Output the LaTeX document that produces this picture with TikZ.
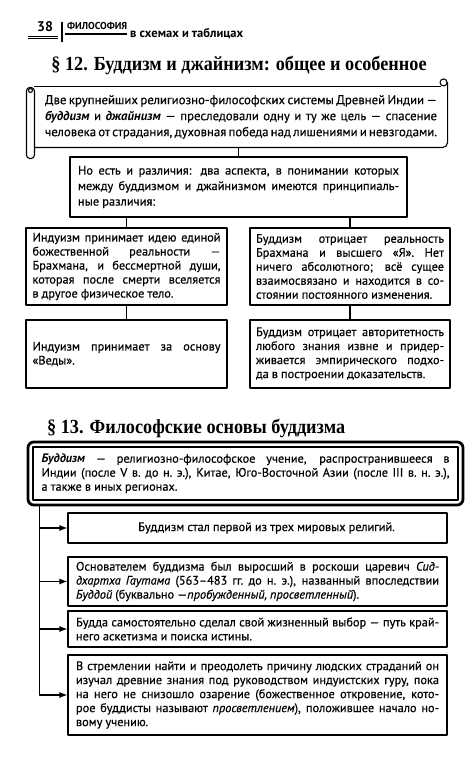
\documentclass[tikz,border=0pt]{standalone}
\usepackage{fontspec}
\setmainfont[UprightFeatures={FakeBold=0.4}, ItalicFeatures={FakeBold=0.4}]{PT Sans}
\newfontfamily\headfont[FakeStretch=0.91]{Liberation Serif}
\usetikzlibrary{arrows.meta,fit}
\newcommand\tightspaces{\spaceskip=.25em plus .35em minus .11em\relax}

\tikzset{
  boxline/.style={line width=1.1pt, line join=round},
  textbox/.style={rectangle, draw, boxline, inner ysep=2pt, align=justify,
    font=\fontsize{12.3}{14}\selectfont, execute at begin node=\tightspaces},
  branch/.style={boxline, -{Latex[length=8pt,width=6pt]}},
  headtitle/.style={font=\headfont\bfseries\fontsize{20}{22}\selectfont, inner sep=0pt},
  headsmall/.style={font=\bfseries, inner sep=0pt}
}

\begin{document}
\begin{tikzpicture}[x=1pt,y=-1pt]
\path[use as bounding box, fill=white] (0,0) rectangle (474,775);

% page header
\node[headsmall, font=\bfseries\fontsize{14}{14}\selectfont, anchor=base] (pagenum) at (45,32) {38};
\draw[line width=0.6pt] (28,36) -- (58,36);
\draw[line width=0.6pt] (28,38.5) -- (58,38.5);
\draw[line width=2.2pt] (62,22) -- (62,42);
\node[headsmall, font=\bfseries\fontsize{10}{10}\selectfont, anchor=base west] (series) at (67,30) {ФИЛОСОФИЯ};
\draw[line width=2pt] ([shift={(-2,3.5)}]series.south west) -- ([shift={(0,3.5)}]series.south east);
\node[headsmall, font=\bfseries\fontsize{12.5}{12.5}\selectfont, anchor=base west] (subtitle) at (130,37.5) {в схемах и таблицах};

% section 12
\node[headtitle, anchor=base] (title12) at (239,71) {§ 12. Буддизм и джайнизм: общее и особенное};

\node[textbox, draw=none, text width=392pt, inner xsep=10pt, minimum height=60pt,
      font=\fontsize{12.8}{16}\selectfont] (box1) at (241,117)
  {\parfillskip=0pt Две крупнейших религиозно-философских системы Древней Индии —\linebreak
   \textbf{\textit{буддизм}} и \textbf{\textit{джайнизм}} — преследовали одну и ту же цель — спасение\linebreak
   человека от страдания, духовная победа над лишениями и невзгодами.};
% scroll outline
\draw[boxline] (box1.north west) -- ([shift={(-7,0)}]box1.north east);
\draw[boxline] ([shift={(-4,-4)}]box1.north east) circle (3.5pt);
\draw[boxline, rounded corners=5pt] ([shift={(0,-4)}]box1.north east) -- (box1.south east) -- (box1.south west);
\draw[boxline, rounded corners=3.5pt] ([shift={(0,1)}]box1.north west) rectangle ([shift={(-8,11)}]box1.south west);
\draw[boxline] ([shift={(-4,4)}]box1.north west) circle (2pt);

\node[textbox, text width=321pt, inner xsep=8pt, minimum height=60pt,
      font=\fontsize{12.4}{15.5}\selectfont] (box2) at (238.5,187)
  {Но есть и различия: два аспекта, в понимании которых\linebreak
   между буддизмом и джайнизмом имеются принципиаль-\linebreak
   ные различия:};

\node[textbox, text width=188pt, inner xsep=6.5pt, minimum height=77pt] (box3) at (126.5,266.5)
  {Индуизм принимает идею единой\linebreak
   божественной реальности —\linebreak
   Брахмана, и бессмертной души,\linebreak
   которая после смерти вселяется\linebreak
   в другое физическое тело.};
\node[textbox, text width=188pt, inner xsep=6pt, minimum height=77pt] (box4) at (350,266.5)
  {\parfillskip=0pt Буддизм отрицает реальность\linebreak
   Брахмана и высшего «Я». Нет\linebreak
   ничего абсолютного; всё сущее\linebreak
   взаимосвязано и находится в со-\linebreak
   стоянии постоянного изменения.};

\node[textbox, text width=188pt, inner xsep=6.5pt, minimum height=68pt] (box5) at (126.5,354)
  {Индуизм принимает за основу\linebreak
   «Веды».};
\node[textbox, text width=188pt, inner xsep=6pt, minimum height=68pt] (box6) at (350,354)
  {\parfillskip=0pt Буддизм отрицает авторитетность\linebreak
   любого знания извне и придер-\linebreak
   живается эмпирического подхо-\linebreak
   да в построении доказательств.};

\draw[boxline] (box2.north) -- (box2.north |- box1.south);
\draw[boxline] (box3.north) -- (box3.north |- box2.south);
\draw[boxline] (box4.north) -- (box4.north |- box2.south);
\draw[boxline] (box5.north) -- (box3.south);
\draw[boxline] (box6.north) -- (box4.south);

% section 13
\node[headtitle, anchor=base west] (title13) at (47,433) {§ 13. Философские основы буддизма};

\node[textbox, text width=408pt, inner xsep=8.5pt, minimum height=53pt] (box7) at (245.5,473.5)
  {\textbf{\textit{Буддизм}} — религиозно-философское учение, распространившееся в\linebreak
   Индии (после V в.~до~н.~э.), Китае, Юго-Восточной Азии (после III в.~н.~э.),\linebreak
   а также в иных регионах.};
\node[draw, line width=2.8pt, rounded corners=6pt, inner sep=4.5pt, fit=(box7)] (box7frame) {};

\node[textbox, text width=363pt, inner xsep=8pt, minimum height=30pt, align=flush center] (box8) at (257.5,528)
  {\hspace*{18pt}Буддизм стал первой из трех мировых религий.};
\node[textbox, text width=363pt, inner xsep=8pt, minimum height=49pt] (box9) at (257.5,581.5)
  {Основателем буддизма был выросший в роскоши царевич \textit{Сид-}\linebreak
   \textit{дхартха Гаутама} (563–483 гг.~до~н.~э.), названный впоследствии\linebreak
   \textit{Буддой} (буквально —\textit{пробужденный, просветленный}).};
\node[textbox, text width=363pt, inner xsep=8pt, minimum height=36pt] (box10) at (257.5,629)
  {Будда самостоятельно сделал свой жизненный выбор — путь край-\linebreak
   него аскетизма и поиска истины.};
\node[textbox, text width=363pt, inner xsep=8pt, minimum height=80pt] (box11) at (257.5,695)
  {В стремлении найти и преодолеть причину людских страданий он\linebreak
   изучал древние знания под руководством индуистских гуру, пока\linebreak
   на него не снизошло озарение (божественное откровение, кото-\linebreak
   рое буддисты называют \textit{просветлением}), положившее начало но-\linebreak
   вому учению.};

\coordinate (spine) at ([shift={(13,0)}]box7frame.south west);
\draw[branch] (spine) |- (box11.west);
\foreach \b in {box8,box9,box10}
  \draw[branch] (spine |- \b.west) -- (\b.west);
\end{tikzpicture}
\end{document}
